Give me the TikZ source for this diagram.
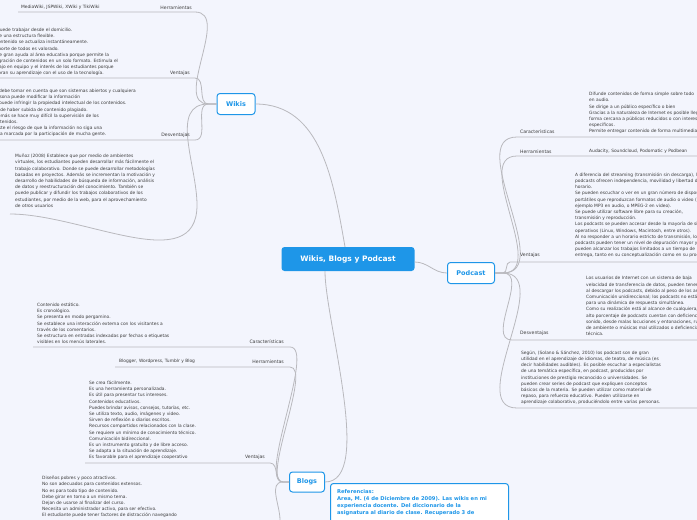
\documentclass[tikz,border=0pt]{standalone}
\usepackage{fontspec}
\setmainfont{DejaVu Sans}
\definecolor{bg}{RGB}{243,245,253}
\definecolor{mainblue}{RGB}{30,150,232}
\definecolor{txt}{RGB}{60,60,60}
\definecolor{lin}{RGB}{185,185,190}
\begin{document}
\begin{tikzpicture}[x=1pt,y=-1pt,
  conn/.style={draw=lin,line width=0.8pt},
  tx/.style={anchor=north west,inner sep=0pt,align=left,text=txt,font=\fontsize{4.4}{6.2}\selectfont},
  lbl/.style={anchor=south east,inner sep=0pt,text=txt,font=\fontsize{4.6}{6}\selectfont},
  topic/.style={draw=mainblue,line width=1pt,fill=white,rounded corners=3pt,text=mainblue,font=\bfseries\fontsize{6.5}{8}\selectfont,inner sep=0pt}]
\useasboundingbox (0,0) rectangle (697,520);
\fill[bg] (0,0) rectangle (697,520);
\clip (0,0) rectangle (697,520);
% main nodes
\node[fill=mainblue,rounded corners=3pt,text=white,font=\bfseries\fontsize{7.5}{9}\selectfont,minimum width=133pt,minimum height=24pt,inner sep=0pt] (c) at (348,259) {Wikis, Blogs y Podcast};
\node[topic,minimum width=38pt,minimum height=21pt] (wikis) at (236,104) {Wikis};
\node[topic,minimum width=47pt,minimum height=21pt] (pod) at (471,273) {Podcast};
\node[topic,minimum width=35pt,minimum height=20pt] (blogs) at (307,482) {Blogs};
\draw[conn] (c.north) ++(-3,0) to[out=100,in=0] (wikis.east);
\draw[conn] (c.east) ++(0,3) to[out=0,in=180] (pod.west);
\draw[conn] (c.south) ++(-23,0) to[out=-90,in=0,looseness=0.6] (blogs.east);
% Referencias
\node[draw=mainblue,line width=1pt,fill=white,rounded corners=3pt,anchor=north west,minimum width=178pt,minimum height=50pt,inner sep=0pt] (ref) at (330,483) {};
\node[tx,text=mainblue,font=\bfseries\fontsize{5.2}{7}\selectfont] (reft) at (337,489) {Referencias:\\Area, M. (4 de Diciembre de 2009). Las wikis en mi\\experiencia docente. Del diccionario de la\\asignatura al diario de clase. Recuperado 3 de};
% ---------- Wikis
\coordinate (whR) at (195,12); \coordinate (whL) at (18,12);
\coordinate (wvR) at (195,78); \coordinate (wvL) at (0,78);
\coordinate (wdR) at (195,140); \coordinate (wdL) at (0,140);
\coordinate (wmR) at (197,205); \coordinate (wmL) at (10,214);
\draw[conn] (wikis.west) -- ++(-8,0) to[out=180,in=0] (whR) -- (whL);
\draw[conn] (wikis.west) -- ++(-8,0) to[out=180,in=0] (wvR) -- (wvL);
\draw[conn] (wikis.west) -- ++(-8,0) to[out=180,in=0] (wdR) -- (wdL);
\draw[conn] (wikis.west) -- ++(-8,0) to[out=180,in=90] (wmR) to[out=-90,in=0] (wmL);
\node[lbl] (whl) at (192,10) {Herramientas};
\node[lbl] (wvl) at (190,76) {Ventajas};
\node[lbl] (wdl) at (190,138) {Desventajas};
\node[tx,anchor=south west] (wht) at (21,10) {MediaWiki, JSPWiki, XWiki y TikiWiki};
\node[tx,anchor=south west] (wvt) at (-10,76) {Se puede trabajar desde el domicilio.\\Tiene una estructura flexible.\\El contenido se actualiza instantáneamente.\\El aporte de todos es valorado.\\Es de gran ayuda al área educativa porque permite la\\integración de contenidos en un solo formato. Estimula el\\trabajo en equipo y el interés de los estudiantes porque\\mejoran su aprendizaje con el uso de la tecnología.};
\node[tx,anchor=south west] (wdt) at (-8,137) {Se debe tomar en cuenta que son sistemas abiertos y cualquiera\\persona puede modificar la información\\Se puede infringir la propiedad intelectual de los contenidos.\\Puede haber subida de contenido plagiado.\\Además se hace muy difícil la supervisión de los\\contenidos.\\Existe el riesgo de que la información no siga una\\línea marcada por la participación de mucha gente.};
\node[tx] (wmt) at (15,154) {Muñoz (2008) Establece que por medio de ambientes\\virtuales, los estudiantes pueden desarrollar más fácilmente el\\trabajo colaborativo. Donde se puede desarrollar metodologías\\basadas en proyectos. Además se incrementan la motivación y\\desarrollo de habilidades de búsqueda de información, análisis\\de datos y reestructuración del conocimiento. También se\\puede publicar y difundir los trabajos colaborativos de los\\estudiantes,  por medio de la web, para el aprovechamiento\\de otros usuarios};
% ---------- Podcast
\coordinate (pcL) at (517,137); \coordinate (pcR) at (697,137);
\coordinate (phL) at (517,156); \coordinate (phR) at (697,156);
\coordinate (pvL) at (510,262); \coordinate (pvR) at (697,262);
\coordinate (pdL) at (512,340); \coordinate (pdR) at (697,340);
\coordinate (psL) at (517,408); \coordinate (psR) at (697,408);
\draw[conn] (pod.east) -- ++(8,0) to[out=0,in=180] (pcL) -- (pcR);
\draw[conn] (pod.east) -- ++(8,0) to[out=0,in=180] (phL) -- (phR);
\draw[conn] (pod.east) -- ++(8,0) to[out=0,in=180] (pvL) -- (pvR);
\draw[conn] (pod.east) -- ++(8,0) to[out=0,in=180] (pdL) -- (pdR);
\draw[conn] (pod.east) -- ++(8,0) to[out=0,in=180] (psL) -- (psR);
\node[lbl,anchor=south west] (pcl) at (520,134) {Características};
\node[lbl,anchor=south west] (phl) at (520,154) {Herramientas};
\node[lbl,anchor=south west] (pvl) at (520,258) {Ventajas};
\node[lbl,anchor=south west] (pdl) at (520,336) {Desventajas};
\node[tx,anchor=south west] (pct) at (589,134) {Difunde contenidos de forma simple sobre todo\\en audio.\\Se dirige  a un público específico o bien\\ Gracias a la naturaleza de Internet es posible llegar de\\forma cercana a públicos reducidos o con intereses\\específicos.\\Permite entregar contenido de forma multimedia.};
\node[tx,anchor=south west] (pht) at (589,154) {Audacity, Soundcloud, Podomatic y Podbean};
\node[tx,anchor=south west] (pvt) at (575,258) {A diferencia del streaming (transmisión sin descarga), los\\podcasts ofrecen independencia, movilidad y libertad de\\horario.\\Se pueden escuchar o ver en un gran número de dispositivos\\portátiles que reproduzcan formatos de audio o video (por\\ejemplo MP3 en audio, o MPEG-2 en video).\\Se puede utilizar software libre para su creación,\\transmisión y reproducción.\\Los podcasts se pueden accesar desde la mayoría de sistemas\\operativos (Linux, Windows, Macintosh, entre otros).\\Al no responder a un horario estricto de transmisión, los\\podcasts pueden tener un nivel de depuración mayor y\\pueden alcanzar los trabajos limitados a un tiempo de\\entrega, tanto en su conceptualización como en su producción.};
\node[tx,anchor=south west] (pdt) at (586,336) {Los usuarios de Internet con un sistema de baja\\velocidad de transferencia de datos, pueden tener problemas\\al descargar los podcasts, debido al peso de los archivos.\\Comunicación unidireccional; los podcasts no están pensados\\para una dinámica de respuesta simultánea.\\Como su realización está al alcance de cualquiera, un\\alto porcentaje de podcasts cuentan con deficiencias de\\sonido, desde malas locuciones y entonaciones, ruidos\\de ambiente o músicas mal utilizados o deficiencias\\técnica.};
\node[tx,anchor=south west] (pst) at (521,405) {Según, (Solano \& Sánchez, 2010) los podcast son de gran\\utilidad en el aprendizaje de idiomas, de teatro, de música (es\\decir habilidades audibles). Es posible escuchar a especialistas\\de una temática específica, en podcast, producidos por\\instituciones de prestigio reconocido o universidades. Se\\pueden crear series de podcast que expliquen conceptos\\básicos de la materia. Se pueden utilizar como material de\\repaso, para refuerzo educativo. Pueden utilizarse en\\aprendizaje colaborativo, produciéndolo entre varias personas.};
% ---------- Blogs
\coordinate (bcR) at (290,347); \coordinate (bcL) at (33,347);
\coordinate (bhR) at (290,367); \coordinate (bhL) at (115,367);
\coordinate (bvR) at (270,463); \coordinate (bvL) at (85,463);
\coordinate (bdR) at (280,520);
\draw[conn] (blogs.west) -- ++(-6,0) to[out=180,in=0,looseness=0.5] (bcR) -- (bcL);
\draw[conn] (blogs.west) -- ++(-6,0) to[out=180,in=0,looseness=0.5] (bhR) -- (bhL);
\draw[conn] (blogs.west) -- ++(-6,0) to[out=180,in=0] (bvR) -- (bvL);
\draw[conn] (blogs.west) -- ++(-6,0) to[out=180,in=90] (bdR);
\node[lbl] (bcl) at (284,344) {Características};
\node[lbl] (bhl) at (284,364) {Herramientas};
\node[lbl] (bvl) at (265,460) {Ventajas};
\node[tx,anchor=south west] (bct) at (37,344) {Contenido estático.\\Es cronológico.\\Se presenta en modo pergamino.\\Se establece una interacción externa con los visitantes a\\través de los comentarios.\\Se estructura en entradas indexadas por fechas o etiquetas\\visibles en los menús laterales.};
\node[tx,anchor=south west] (bht) at (119,364) {Blogger, Wordpress, Tumblr y Blog};
\node[tx,anchor=south west] (bvt) at (89,460) {Se crea fácilmente.\\Es una herramienta personalizada.\\Es útil para presentar tus intereses.\\Contenidos educativos.\\Puedes brindar avisos, consejos, tutorías, etc.\\Se utiliza texto, audio, imágenes y video.\\Sirven de reflexión o diarios escritos.\\Recursos compartidos relacionados con la clase.\\Se requiere un mínimo de conocimiento técnico.\\Comunicación bidireccional.\\Es un instrumento gratuito y de libre acceso.\\Se adapta a la situación de aprendizaje.\\Es favorable para el aprendizaje cooperativo};
\node[tx] (bdt) at (42,476) {Diseños pobres y poco atractivos.\\No son adecuados para contenidos extensos.\\No es para todo tipo de contenido.\\Debe girar en torno a un mismo tema.\\Dejan de usarse al finalizar del curso.\\Necesita un administrador activo, para ser efectivo.\\El estudiante puede tener factores de distracción navegando};
\end{tikzpicture}
\end{document}
